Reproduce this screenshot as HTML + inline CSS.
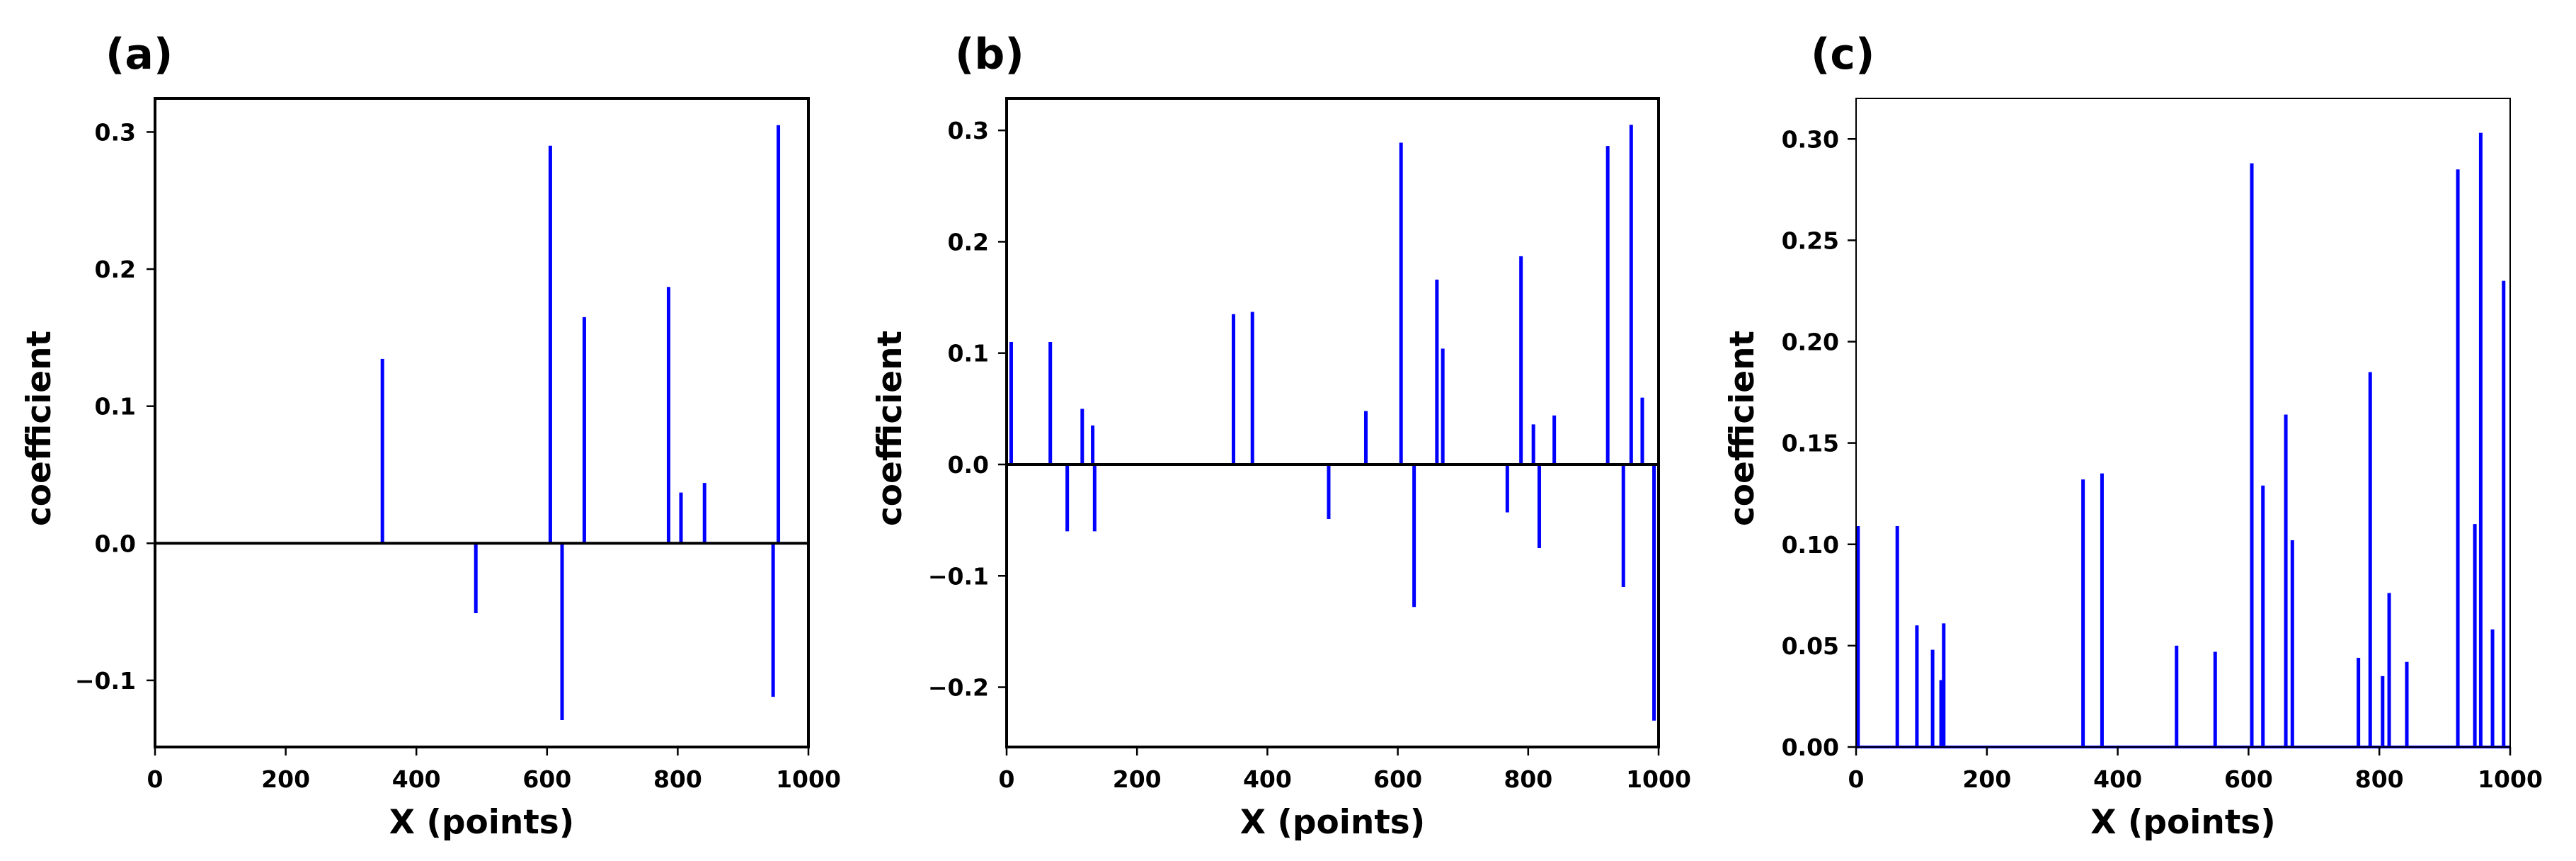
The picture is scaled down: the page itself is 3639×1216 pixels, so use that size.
<!DOCTYPE html>
<html><head><meta charset="utf-8"><style>
html,body{margin:0;padding:0;background:#fff;}
svg{display:block;}
text{font-family:"DejaVu Sans","Liberation Sans",sans-serif;font-weight:bold;fill:#000;}
</style></head><body>
<svg id="fig" width="3639" height="1216" viewBox="0 0 3639 1216" xmlns="http://www.w3.org/2000/svg"></svg>
<script>
// Panel (a)
const aX = [348, 491, 605, 623, 657, 786, 805, 841, 946, 954];
const aY = [0.1345, -0.051, 0.290, -0.129, 0.165, 0.187, 0.037, 0.044, -0.112, 0.305];
const aYTicks = [-0.1, 0.0, 0.1, 0.2, 0.3];
const aYTickLabels = ["\u22120.1", "0.0", "0.1", "0.2", "0.3"];
// Panel (b)
const bX = [7, 67, 93, 116, 132, 135, 348, 377, 494, 551, 605, 625, 660, 669, 768, 789, 808, 817, 840, 922, 946, 958, 975, 993];
const bY = [0.110, 0.110, -0.060, 0.050, 0.035, -0.060, 0.135, 0.137, -0.049, 0.048, 0.289, -0.128, 0.166, 0.104, -0.043, 0.187, 0.036, -0.075, 0.044, 0.286, -0.110, 0.305, 0.060, -0.230];
const bYTicks = [-0.2, -0.1, 0.0, 0.1, 0.2, 0.3];
const bYTickLabels = ["\u22120.2", "\u22120.1", "0.0", "0.1", "0.2", "0.3"];
// Panel (c)
const cX = [3, 63, 93, 117, 130, 134, 347, 376, 490, 549, 605, 622, 657, 667, 768, 786, 805, 815, 842, 920, 946, 955, 973, 990];
const cY = [0.109, 0.109, 0.060, 0.048, 0.033, 0.061, 0.132, 0.135, 0.050, 0.047, 0.288, 0.129, 0.164, 0.102, 0.044, 0.185, 0.035, 0.076, 0.042, 0.285, 0.110, 0.303, 0.058, 0.230];
const cYTicks = [0.00, 0.05, 0.10, 0.15, 0.20, 0.25, 0.30];
const cYTickLabels = ["0.00", "0.05", "0.10", "0.15", "0.20", "0.25", "0.30"];
const xTicks = [0, 200, 400, 600, 800, 1000];
const xTickLabels = ["0", "200", "400", "600", "800", "1000"];

const NS = "http://www.w3.org/2000/svg";
const svg = document.getElementById("fig");
function mk(tag, attrs, parent) {
  const e = document.createElementNS(NS, tag);
  for (const k in attrs) e.setAttribute(k, attrs[k]);
  (parent || svg).appendChild(e);
  return e;
}

const panels = [
  {id:"a", title:"(a)", xs:aX, ys:aY, yt:aYTicks, ytl:aYTickLabels, L:219, R:1142, T:139, B:1055, ymin:-0.1486, ymax:0.3245, frame:4, zeroLine:"black", titleX:149, ylabX:54, lblR:192},
  {id:"b", title:"(b)", xs:bX, ys:bY, yt:bYTicks, ytl:bYTickLabels, L:1422, R:2343, T:139, B:1055, ymin:-0.2537, ymax:0.3287, frame:4, zeroLine:"black", titleX:1349, ylabX:1256, lblR:1397},
  {id:"c", title:"(c)", xs:cX, ys:cY, yt:cYTicks, ytl:cYTickLabels, L:2622, R:3546, T:139, B:1055, ymin:0, ymax:0.320, frame:2, zeroLine:"blue", titleX:2558, ylabX:2460, lblR:2598}
];

panels.forEach(p => {
  const g = mk("g", {});
  
  
  const sx = v => p.L + (v / 1000) * (p.R - p.L);
  const sy = v => p.B - (v - p.ymin) / (p.ymax - p.ymin) * (p.B - p.T);

  const stems = mk("g", {}, g);
  
  
  p.xs.forEach((xv, i) => {
    const ln = mk("line", {x1: sx(xv), x2: sx(xv), y1: sy(0), y2: sy(p.ys[i]), stroke: "#0000ff", "stroke-width": 5}, stems);
    
    
  });
  const z = mk("line", {x1: p.L, x2: p.R, y1: sy(0), y2: sy(0), stroke: p.zeroLine === "black" ? "#000" : "#0000ff", "stroke-width": 4}, g);
  
  

  const fr = mk("rect", {x: p.L, y: p.T, width: p.R - p.L, height: p.B - p.T, fill: "none", stroke: "#000", "stroke-width": p.frame}, g);
  
  

  xTicks.forEach((t, i) => {
    const x = sx(t);
    const tk = mk("line", {x1: x, x2: x, y1: p.B, y2: p.B + 12, stroke: "#000", "stroke-width": 2.5}, g);
    
    
    const tl = mk("text", {x: x, y: 1112, "text-anchor": "middle", "font-size": 33}, g);
    tl.textContent = xTickLabels[i];
    
    
  });
  p.yt.forEach((t, i) => {
    const y = sy(t);
    const tk = mk("line", {x1: p.L - 12, x2: p.L, y1: y, y2: y, stroke: "#000", "stroke-width": 2.5}, g);
    
    
    const tl = mk("text", {x: p.lblR, y: y + 12, "text-anchor": "end", "font-size": 33}, g);
    tl.textContent = p.ytl[i];
    
    
  });
  const xl = mk("text", {x: (p.L + p.R) / 2, y: 1177, "text-anchor": "middle", "font-size": 47}, g);
  xl.textContent = "X (points)";
  
  
  const yc = (p.T + p.B) / 2 + 8;
  const yl = mk("text", {x: p.ylabX + 17, y: yc, "text-anchor": "middle", "font-size": 47, transform: "rotate(-90 " + (p.ylabX + 17) + " " + yc + ")"}, g);
  yl.textContent = "coefficient";
  
  
  const tt = mk("text", {x: p.titleX, y: 97, "font-size": 60}, g);
  tt.textContent = p.title;
  
  
});
</script>
</body></html>
